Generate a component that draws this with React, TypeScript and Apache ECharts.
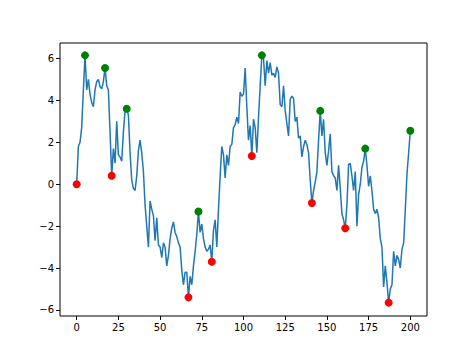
import React, { useEffect, useRef } from "react";
import * as echarts from "echarts";

const values: number[] = [
  0, 1.8, 2.0, 2.7, 4.5, 6.15, 4.5, 5.0, 4.3, 3.9,
  3.7, 4.5, 4.9, 5.0, 4.65, 4.55, 4.9, 5.55, 4.7, 4.5,
  2.5, 0.4, 1.7, 1.0, 3.0, 1.4, 1.3, 1.1, 2.5, 3.5,
  3.6, 3.3, 1.5, 0.2, -0.2, -0.3, 0.4, 1.6, 2.1, 1.5,
  0.6, -1.0, -2.0, -3.0, -0.8, -1.2, -1.5, -2.7, -1.6, -2.9,
  -3.0, -3.5, -2.8, -3.0, -3.9, -3.4, -2.6, -2.1, -1.8, -2.3,
  -2.5, -2.8, -3.0, -4.1, -4.8, -4.2, -4.2, -5.4, -4.4, -4.8,
  -3.9, -3.2, -2.4, -1.3, -2.3, -1.9, -2.6, -3.0, -3.2, -3.1,
  -2.9, -3.7, -2.2, -1.7, -3.0, -1.2, 0.4, 1.8, 1.4, 0.3,
  1.4, 0.9, 1.8, 1.9, 2.7, 2.85, 3.2, 2.9, 4.4, 4.2,
  4.3, 5.55, 3.7, 2.1, 2.8, 1.35, 3.1, 2.7, 1.5, 3.2,
  4.7, 6.15, 6.0, 4.7, 5.9, 5.3, 5.8, 5.2, 5.3, 5.1,
  5.6, 5.3, 3.8, 3.7, 4.7, 3.5, 2.9, 2.3, 4.05, 4.2,
  4.1, 3.0, 3.2, 2.2, 2.3, 1.3, 1.8, 2.1, 1.9, 1.5,
  0.2, -0.9, -0.3, 0.1, 0.6, 2.1, 3.5, 2.3, 3.1, 1.5,
  0.9, 1.6, 2.4, 0.6, 0.4, 0.3, -0.3, 0.9, -0.2, -1.4,
  -1.7, -2.1, -1.0, 0.95, 1.0, 0.4, -0.3, 0.6, -2.0, -0.5,
  0.0, 0.8, 1.1, 1.7, 0.9, -0.1, 0.4, -0.3, -1.2, -1.4,
  -1.2, -1.6, -2.6, -3.0, -4.9, -3.9, -4.7, -5.65, -5.0, -4.8,
  -3.2, -3.9, -3.4, -3.6, -4.0, -3.1, -2.8, -1.2, 0.5, 1.5,
  2.55,
];

const maxIdx: number[] = [5, 17, 30, 73, 111, 146, 173, 200];
const minIdx: number[] = [0, 21, 67, 81, 105, 141, 161, 187];

const xTicks: number[] = [0, 25, 50, 75, 100, 125, 150, 175, 200];
const yTicks: number[] = [-6, -4, -2, 0, 2, 4, 6];

const fmt = (v: number) => (v < 0 ? "\u2212" + Math.abs(v) : String(v));

export default function App() {
  const ref = useRef<HTMLDivElement>(null);
  useEffect(() => {
    if (!ref.current) return;
    const chart = echarts.init(ref.current, null, { renderer: "svg" });
    const lineData = values.map((v, i) => [i, v]);
    const labelStyle = {
      color: "#000",
      fontFamily: "DejaVu Sans",
      fontSize: 10,
      margin: 6,
    };
    chart.setOption({
      animation: false,
      backgroundColor: "#fff",
      grid: {
        left: 60,
        right: 47,
        top: 43,
        bottom: 39,
        show: true,
        borderColor: "#000",
        borderWidth: 1,
        backgroundColor: "transparent",
      },
      xAxis: {
        type: "value",
        min: -10,
        max: 210,
        splitLine: { show: false },
        axisLine: { show: false, onZero: false },
        axisTick: { show: true, length: 4, customValues: xTicks, lineStyle: { color: "#000" } },
        axisLabel: { ...labelStyle, customValues: xTicks, formatter: fmt },
      },
      yAxis: {
        type: "value",
        min: -6.29,
        max: 6.74,
        splitLine: { show: false },
        axisLine: { show: false, onZero: false },
        axisTick: { show: true, length: 4, customValues: yTicks, lineStyle: { color: "#000" } },
        axisLabel: { ...labelStyle, customValues: yTicks, formatter: fmt },
      },
      series: [
        {
          type: "line",
          data: lineData,
          showSymbol: false,
          lineStyle: { color: "#1f77b4", width: 1.5 },
          z: 2,
        },
        {
          type: "scatter",
          data: minIdx.map((i) => [i, values[i]]),
          symbolSize: 8,
          itemStyle: { color: "#ff0000", opacity: 1 },
          z: 3,
        },
        {
          type: "scatter",
          data: maxIdx.map((i) => [i, values[i]]),
          symbolSize: 8,
          itemStyle: { color: "#008000", opacity: 1 },
          z: 3,
        },
      ],
    });
    return () => chart.dispose();
  }, []);
  return (
    <div
      ref={ref}
      style={{ position: "fixed", left: 0, top: 0, width: 474, height: 355 }}
    />
  );
}
